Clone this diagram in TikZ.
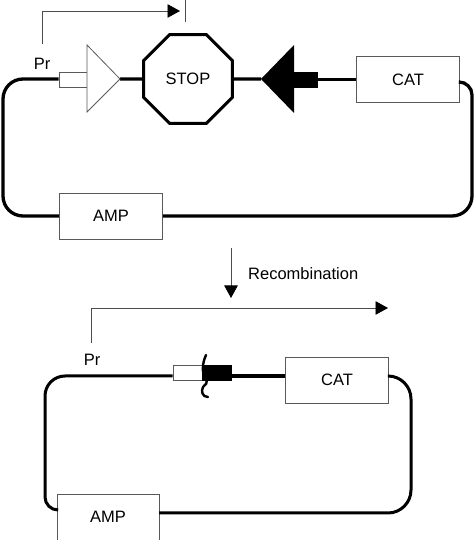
\documentclass[tikz,border=0pt]{standalone}
\usepackage{fontspec}
\setmainfont{Liberation Sans}
\usepackage{tikz}
\usetikzlibrary{arrows.meta,positioning,shapes.geometric}

\begin{document}
\begin{tikzpicture}[
    x=1pt,y=1pt,
    gene/.style={draw=black!65, line width=0.8pt, fill=white, align=center, font=\fontsize{16.5}{18}\selectfont,
      minimum width=103pt, minimum height=46pt, inner sep=0pt},
    promoter/.style={draw=black!65, line width=0.8pt, fill=white, minimum width=28pt, minimum height=15pt, inner sep=0pt},
    blackbox/.style={draw=black, fill=black, minimum height=15pt, inner sep=0pt},
    label/.style={font=\fontsize{16.5}{18}\selectfont, inner sep=0pt},
    dna/.style={line width=3.3pt},
    dnatwo/.style={line width=3pt},
    edge/.style={-{Triangle[length=12.5pt,width=13.5pt,color=black]}, draw=black!70, line width=0.8pt},
    tick/.style={draw=black!70, line width=0.8pt}
  ]
    \useasboundingbox (0,0) rectangle (474,540);

    % top plasmid
    \node[gene] (cat) at (408,460.5) {CAT};
    \node[gene] (amp) at (111,324) {AMP};
    \node[promoter] (pr) at (73,460) {};
    \node[blackbox, minimum width=23pt] (prrev) at (305.5,460) {};
    \node[draw=black, line width=3pt, fill=white, regular polygon, regular polygon sides=8,
      minimum size=96pt, inner sep=0pt, font=\fontsize{16.5}{18}\selectfont] (stop) at (188,461) {STOP};
    \node[label] (prtext) at (42,476) {Pr};
    \coordinate (west) at (3,400);
    \coordinate (east) at (472,400);
    \coordinate (catout) at (460,458);

    \coordinate (tri1a) at (87,495);
    \coordinate (tri1b) at (87,428);
    \coordinate (tri1c) at (120,461);
    \coordinate (tri2a) at (294,495);
    \coordinate (tri2b) at (294,427);
    \coordinate (tri2c) at (261,461);

    \draw[dna, rounded corners=20pt] (pr.west |- tri1c) -| (west) |- (amp.west);
    \draw[dna] (catout) [rounded corners=13pt] -| (east) [rounded corners=20pt] |- (amp.east);
    \draw[dna] (tri1c) -- (stop);
    \draw[dna] (stop) -- (tri2c);
    \draw[dna] (prrev.east |- cat) -- (cat.west);
    \draw[draw=black!65, line width=0.8pt, fill=white] (tri1a) -- (tri1b) -- (tri1c) -- cycle;
    \fill (tri2a) -- (tri2b) -- (tri2c) -- cycle;

    \coordinate (start1) at (42,496);
    \coordinate (corner1) at (42,529);
    \coordinate (end1) at (180,529);
    \coordinate (bar1a) at (185,540);
    \coordinate (bar1b) at (185,518);
    \draw[edge] (start1) -- (corner1) -- (end1);
    \draw[tick] (bar1a) -- (bar1b);

    % recombination arrow
    \coordinate (down1) at (231,292);
    \coordinate (down2) at (231,242);
    \draw[edge] (down1) -- (down2);
    \node[label, anchor=west] (recomb) at (248,266) {Recombination};

    % bottom plasmid
    \node[gene] (cat2) at (337,160) {CAT};
    \node[gene, minimum width=102pt] (amp2) at (108,23) {AMP};
    \node[promoter, minimum width=29pt] (pr2) at (187.5,167.5) {};
    \node[blackbox, minimum width=29pt] (black2) at (216.5,167.5) {};
    \node[label] (prtext2) at (92,180) {Pr};
    \coordinate (west2) at (45,100);
    \coordinate (east2) at (411,100);
    \coordinate (line2) at (100,164);
    \coordinate (ampin) at (57,30);
    \coordinate (ampout) at (159,27);
    \draw[dnatwo] (pr2.west |- line2) [rounded corners=20pt] -| (west2) [rounded corners=13pt] |- (ampin);
    \draw[dnatwo, rounded corners=23pt] (cat2.east |- line2) -| (east2) |- (ampout);
    \draw[dnatwo, line width=3.2pt] (black2.east |- line2) -- (cat2.west |- line2);

    \coordinate (start2) at (91,197);
    \coordinate (corner2) at (91,232);
    \coordinate (end2) at (388,232);
    \draw[edge] (start2) -- (corner2) -- (end2);

    % recombination site
    \coordinate (sitetop) at (206,185);
    \coordinate (sitebot) at (208,143);
    \draw[line width=2.4pt, line cap=round] (sitetop) .. controls (202,176) and (202,168) .. (205,162)
      .. controls (209,156) and (205,156) .. (203,153) .. controls (201,149) and (202,143) .. (sitebot);
  \end{tikzpicture}
\end{document}
